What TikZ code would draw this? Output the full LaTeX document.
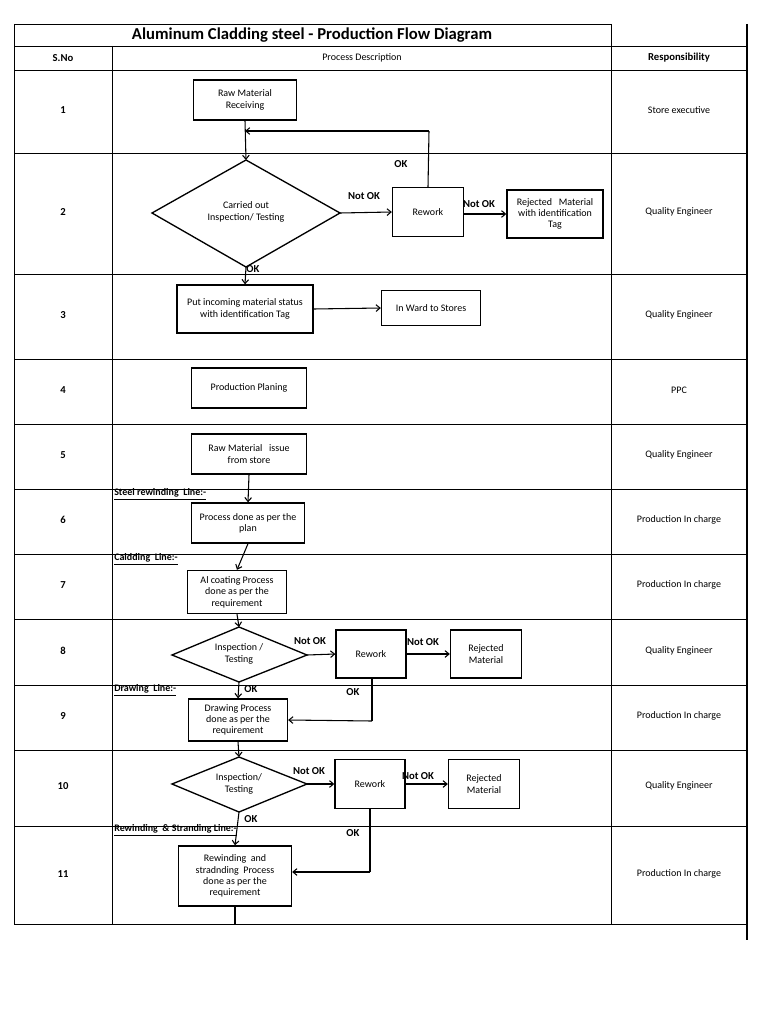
\documentclass[tikz,border=0pt]{standalone}
\usepackage{fontspec}
\setmainfont{Carlito}
\usetikzlibrary{arrows.meta,shapes.geometric}
\begin{document}
\begin{tikzpicture}[x=0.75pt,y=-0.75pt,
  box/.style={draw,line width=1pt,align=center,font=\fontsize{7.5}{8.5}\selectfont,inner sep=0pt},
  lab/.style={font=\bfseries\fontsize{8}{9}\selectfont,inner sep=0pt},
  cell/.style={font=\fontsize{7.5}{8.5}\selectfont,inner sep=0pt},
  sec/.style={font=\bfseries\fontsize{7.5}{8.5}\selectfont,inner sep=0pt,anchor=west},
  arr/.style={-{Straight Barb[length=3pt,width=5pt]},line width=0.8pt},
  ln/.style={line width=0.8pt}]
\useasboundingbox (0,0) rectangle (768,1024);
% table
\draw[line width=0.7pt] (14,24) -- (611,24);
\draw[line width=0.7pt] (14,24) -- (14,924);
\draw[line width=0.7pt] (611,24) -- (611,924);
\draw[line width=1pt] (747,24) -- (747,940);
\draw[line width=0.7pt] (112,46) -- (112,924);
\foreach \y in {46,70,153,274,359,424,489,554,619,685,750,826,924}
  \draw[line width=0.7pt] (14,\y) -- (747,\y);
\node[font=\bfseries\fontsize{12.5}{14}\selectfont] (title) at (312,35) {Aluminum Cladding steel - Production Flow Diagram};
\node[lab] (hs) at (63,58) {S.No};
\node[cell] (hp) at (362,58) {Process Description};
\node[lab] (hr) at (679,58) {Responsibility};
% columns
\foreach \n/\y/\r in {1/110/Store executive,2/212/Quality Engineer,3/315/Quality Engineer,4/390/PPC,5/455/Quality Engineer,6/520/Production In charge,7/585/Production In charge,8/651/Quality Engineer,9/716/Production In charge,10/786/Quality Engineer,11/874/Production In charge}{
  \node[lab] (sn\n) at (63,\y) {\n};
  \node[cell] (rs\n) at (679,\y) {\r};}
% section labels
\node[sec] (s1) at (114,494) {\underline{Steel rewinding\ \ Line:-}};
\node[sec] (s2) at (114,559) {\underline{Caldding\ \ Line:-}};
\node[sec] (s3) at (114,690) {\underline{Drawing\ \ Line:-}};
\node[sec] (s4) at (114,830) {\underline{Rewinding\ \ \& Stranding Line:-}};
% row 1-2
\node[box,minimum width=0.75*103pt,minimum height=0.75*40pt] (raw) at (245,100) {Raw Material\\Receiving};
\draw[line width=1pt] (152,213) -- (246,160) -- (340,213) -- (246,267) -- cycle;
\coordinate (dT) at (246,160); \coordinate (dR) at (340,213); \coordinate (dB) at (246,267);
\node[cell,align=center] (dtext) at (246,212) {Carried out\\Inspection/ Testing};
\node[box,minimum width=0.75*71pt,minimum height=0.75*49pt] (rw1) at (428,212) {Rework};
\node[box,minimum width=0.75*96pt,minimum height=0.75*48pt] (rej1) at (555,214) {Rejected\ \ \ Material\\with identification\\Tag};
\coordinate (loopR) at (429,131); \coordinate (loopL) at (245,131);
\draw[ln] (rw1.north) -- (loopR);
\draw[arr] (loopR) -- (loopL);
\draw[arr] (raw.south) -- (dT);
\draw[arr] (dR) -- (rw1.west);
\draw[arr] (rw1.east |- rej1.west) -- (rej1.west);
\node[lab] (ok1) at (401,164) {OK};
\node[lab] (no1) at (364,196) {Not OK};
\node[lab] (no2) at (479,204) {Not OK};
\node[lab] (ok2) at (253,269) {OK};
% row 3
\node[box,minimum width=0.75*136pt,minimum height=0.75*48pt] (put) at (245,309) {Put incoming material status\\with identification Tag};
\node[box,minimum width=0.75*99pt,minimum height=0.75*35pt] (ward) at (431,308) {In Ward to Stores};
\draw[arr] (dB) -- (put.north);
\draw[arr] (put.east) -- (ward.west);
% rows 4-7
\node[box,minimum width=0.75*115pt,minimum height=0.75*40pt] (plan) at (249,388) {Production Planing};
\node[box,minimum width=0.75*115pt,minimum height=0.75*40pt] (issue) at (249,454) {Raw Material\ \ \ issue\\from store};
\node[box,minimum width=0.75*113pt,minimum height=0.75*40pt] (proc) at (248,523) {Process done as per the\\plan};
\node[box,minimum width=0.75*99pt,minimum height=0.75*43pt] (al) at (237,592) {Al coating Process\\done as per the\\requirement};
\draw[arr] (issue.south) -- (proc.north);
\draw[arr] (proc.south) -- (al.north);
% row 8-9
\draw[line width=1pt] (172,655) -- (239,627) -- (307,655) -- (239,682) -- cycle;
\node[cell,align=center] (d8t) at (239,654) {Inspection /\\Testing};
\coordinate (d8T) at (239,627); \coordinate (d8R) at (307,655); \coordinate (d8B) at (239,682);
\node[box,minimum width=0.75*70pt,minimum height=0.75*48pt] (rw2) at (371,654) {Rework};
\node[box,minimum width=0.75*71pt,minimum height=0.75*48pt] (rej2) at (486,654) {Rejected\\Material};
\node[box,minimum width=0.75*99pt,minimum height=0.75*42pt] (draw) at (238,720) {Drawing Process\\done as per the\\requirement};
\draw[arr] (al.south) -- (d8T);
\draw[arr] (d8R) -- (rw2.west);
\draw[arr] (rw2.east) -- (rej2.west);
\draw[arr] (d8B) -- (draw.north);
\coordinate (c8) at (372,721);
\draw[ln] (rw2.south -| c8) -- (c8);
\draw[arr] (c8) -- (draw.east);
\node[lab] (no3) at (310,641) {Not OK};
\node[lab] (no4) at (423,642) {Not OK};
\node[lab] (ok3) at (251,689) {OK};
\node[lab] (ok4) at (353,692) {OK};
% row 10-11
\draw[line width=1pt] (172,784) -- (239,757) -- (307,784) -- (239,812) -- cycle;
\node[cell,align=center] (d10t) at (239,784) {Inspection/\\Testing};
\coordinate (dxT) at (239,757); \coordinate (dxR) at (307,784); \coordinate (dxB) at (239,812);
\node[box,minimum width=0.75*70pt,minimum height=0.75*49pt] (rw3) at (370,784) {Rework};
\node[box,minimum width=0.75*71pt,minimum height=0.75*49pt] (rej3) at (484,784) {Rejected\\Material};
\node[box,minimum width=0.75*113pt,minimum height=0.75*60pt] (rew) at (235,876) {Rewinding\ \ and\\stradnding\ \ Process\\done as per the\\requirement};
\draw[arr] (draw.south) -- (dxT);
\draw[arr] (dxR) -- (rw3.west);
\draw[arr] (rw3.east) -- (rej3.west);
\draw[arr] (dxB) -- (rew.north);
\coordinate (c10) at (370,872);
\draw[ln] (rw3.south) -- (c10);
\draw[arr] (c10) -- (rew.east |- c10);
\coordinate (endb) at (235,924);
\draw[line width=1pt] (rew.south) -- (endb);
\node[lab] (no5) at (309,771) {Not OK};
\node[lab] (no6) at (418,776) {Not OK};
\node[lab] (ok5) at (251,819) {OK};
\node[lab] (ok6) at (353,833) {OK};
\end{tikzpicture}
\end{document}
